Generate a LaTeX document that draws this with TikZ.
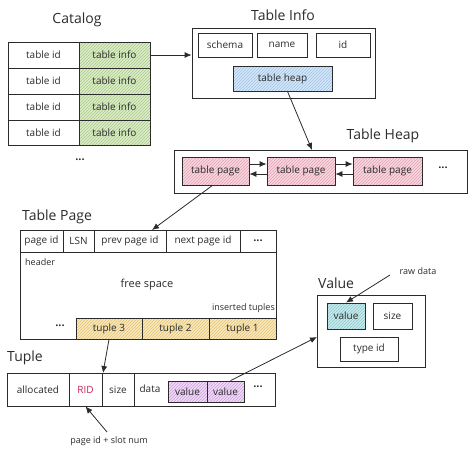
\documentclass[tikz,border=0pt]{standalone}
\usepackage{fontspec}
\setmainfont{Open Sans}
\usetikzlibrary{arrows.meta,patterns,calc}
\definecolor{ink}{HTML}{2B2B2B}
\definecolor{gbg}{HTML}{DDEDCB}\definecolor{gln}{HTML}{A9CC85}
\definecolor{bbg}{HTML}{D6E7F7}\definecolor{bln}{HTML}{9EC3E6}
\definecolor{pbg}{HTML}{F8D8E0}\definecolor{pln}{HTML}{E3A2B3}
\definecolor{ybg}{HTML}{F8E8BC}\definecolor{yln}{HTML}{E4C474}
\definecolor{vbg}{HTML}{F0DCF6}\definecolor{vln}{HTML}{CC9EDD}
\definecolor{cbg}{HTML}{CAEAEC}\definecolor{cln}{HTML}{86C8CE}
\definecolor{ridred}{HTML}{C2255C}
\tikzset{
  cell/.style={draw=ink,line width=0.8pt,inner sep=0pt,font=\fontsize{10}{11}\selectfont,text=ink},
  hatch/.style 2 args={preaction={fill=#1},pattern=north east lines,pattern color=#2},
  frame/.style={draw=ink,line width=0.8pt,inner sep=0pt},
  title/.style={font=\fontsize{14}{15}\selectfont,text=ink,inner sep=0pt},
  lbl/.style={font=\fontsize{10}{11}\selectfont,text=ink,inner sep=0pt},
  dots/.style={font=\fontsize{11}{12}\selectfont\bfseries,text=ink,inner sep=0pt},
  small/.style={font=\fontsize{9}{10}\selectfont,text=ink,inner sep=0pt},
  arr/.style={draw=ink,line width=0.8pt,-{Latex[length=7pt,width=6pt]}},
}
\begin{document}
\begin{tikzpicture}[x=1pt,y=-1pt]
\useasboundingbox (0,0) rectangle (474,453);
% ---------- Catalog
\node[title] (cattitle) at (77,20) {Catalog};
\foreach \i/\y/\h in {1/55/26,2/81/26,3/107/26,4/132.5/25}{
  \node[cell,minimum width=71pt,minimum height=\h pt] (tid\i) at (43.5,\y) {table id};
  \node[cell,hatch={gbg}{gln},minimum width=71pt,minimum height=\h pt] (tinf\i) at (114.5,\y) {table info};
}
\node[dots] (catdots) at (80,160) {...};
% ---------- Table Info
\node[title] (tititle) at (283,15) {Table Info};
\node[frame,minimum width=183pt,minimum height=70pt] (tinfo) at (283.5,63) {};
\node[cell,minimum width=54pt,minimum height=24pt] (schema) at (225,45) {schema};
\node[cell,minimum width=50pt,minimum height=24pt] (name) at (282,45) {name};
\node[cell,minimum width=54pt,minimum height=24pt] (idc) at (343,45) {id};
\node[cell,hatch={bbg}{bln},minimum width=99pt,minimum height=25pt] (theap) at (282.5,78.5) {table heap};
\draw[arr] (tinf1.east) -- (tinf1.east -| tinfo.west);
% ---------- Table Heap
\node[title] (thtitle) at (383,136) {Table Heap};
\node[frame,minimum width=293pt,minimum height=43pt] (thbox) at (320.5,171.5) {};
\node[cell,hatch={pbg}{pln},minimum width=67pt,minimum height=28pt] (p1) at (215.5,171) {table page};
\node[cell,hatch={pbg}{pln},minimum width=68pt,minimum height=28pt] (p2) at (301,171) {table page};
\node[cell,hatch={pbg}{pln},minimum width=69pt,minimum height=28pt] (p3) at (387.5,171) {table page};
\node[dots] (thdots) at (443,168) {...};
\coordinate (thin) at (312,150);
\draw[arr] ($(theap.south)+(5,0)$) -- (thin);
\draw[arr] ($(p1.east)+(0,-7)$) -- ($(p2.west)+(0,-7)$);
\draw[arr] ($(p2.west)+(0,3)$) -- ($(p1.east)+(0,3)$);
\draw[arr] ($(p2.east)+(0,-7)$) -- ($(p3.west)+(0,-7)$);
\draw[arr] ($(p3.west)+(0,3)$) -- ($(p2.east)+(0,3)$);
% ---------- Table Page
\node[title,anchor=west] (tptitle) at (22,217) {Table Page};
\node[frame,minimum width=256pt,minimum height=109pt] (tpbox) at (148,284.5) {};
\node[cell,minimum width=43pt,minimum height=22pt] (hpid) at (41.5,241) {page id};
\node[cell,minimum width=31pt,minimum height=22pt] (hlsn) at (78.5,241) {LSN};
\node[cell,minimum width=72pt,minimum height=22pt] (hprev) at (130,241) {prev page id};
\node[cell,minimum width=74pt,minimum height=22pt] (hnext) at (203,241) {next page id};
\node[cell,dots,draw=ink,line width=0.8pt,minimum width=36pt,minimum height=22pt] (hdots) at (258,241) {...};
\node[small,anchor=west] (hdr) at (25,262) {header};
\node[lbl,font=\fontsize{11}{12}\selectfont] (free) at (147,285) {free space};
\node[small,anchor=east] (ins) at (275,308) {inserted tuples};
\node[cell,hatch={ybg}{yln},minimum width=66pt,minimum height=21pt] (t3) at (109,328.5) {tuple 3};
\node[cell,hatch={ybg}{yln},minimum width=67pt,minimum height=21pt] (t2) at (175.5,328.5) {tuple 2};
\node[cell,hatch={ybg}{yln},minimum width=67pt,minimum height=21pt] (t1) at (242.5,328.5) {tuple 1};
\node[dots] (tpdots) at (60,326) {...};
\coordinate (pgin) at (152,230);
\draw[arr] ($(p1.south)+(-3,0)$) -- (pgin);
% ---------- Tuple
\node[title,anchor=west] (tutitle) at (7,358) {Tuple};
\node[frame,minimum width=268pt,minimum height=33pt] (tubox) at (141,389.5) {};
\node[cell,minimum width=62pt,minimum height=33pt] (alloc) at (38,389.5) {allocated};
\node[cell,minimum width=33pt,minimum height=33pt,text=ridred] (rid) at (85.5,389.5) {RID};
\node[cell,minimum width=32pt,minimum height=33pt] (tsize) at (118,389.5) {size};
\node[lbl] (data) at (150,389) {data};
\node[cell,hatch={vbg}{vln},minimum width=39pt,minimum height=21pt] (v1) at (187.5,391.5) {value};
\node[cell,hatch={vbg}{vln},minimum width=37pt,minimum height=21pt] (v2) at (225.5,391.5) {value};
\node[dots] (tudots) at (258,387) {...};
\coordinate (tuin) at (103,373);
\draw[arr] (t3.south) -- (tuin);
\node[small] (slot) at (109,441) {page id + slot num};
\coordinate (slotst) at (107,432);
\draw[arr] (slotst) -- (rid.south);
% ---------- Value
\node[title,anchor=west] (vtitle) at (318,283) {Value};
\node[frame,minimum width=108pt,minimum height=72pt] (vbox) at (371,331) {};
\node[cell,hatch={cbg}{cln},minimum width=38pt,minimum height=26pt] (vval) at (346,316) {value};
\node[cell,minimum width=39pt,minimum height=26pt] (vsize) at (392.5,316) {size};
\node[cell,minimum width=58pt,minimum height=24pt] (vtype) at (369,349) {type id};
\node[small] (raw) at (418,271) {raw data};
\coordinate (rawst) at (390,275);
\draw[arr] (rawst) -- (vval.north);
\coordinate (vin) at (317,337);
\draw[arr] ($(v2.north)+(5,0)$) -- (vin);
\end{tikzpicture}
\end{document}
